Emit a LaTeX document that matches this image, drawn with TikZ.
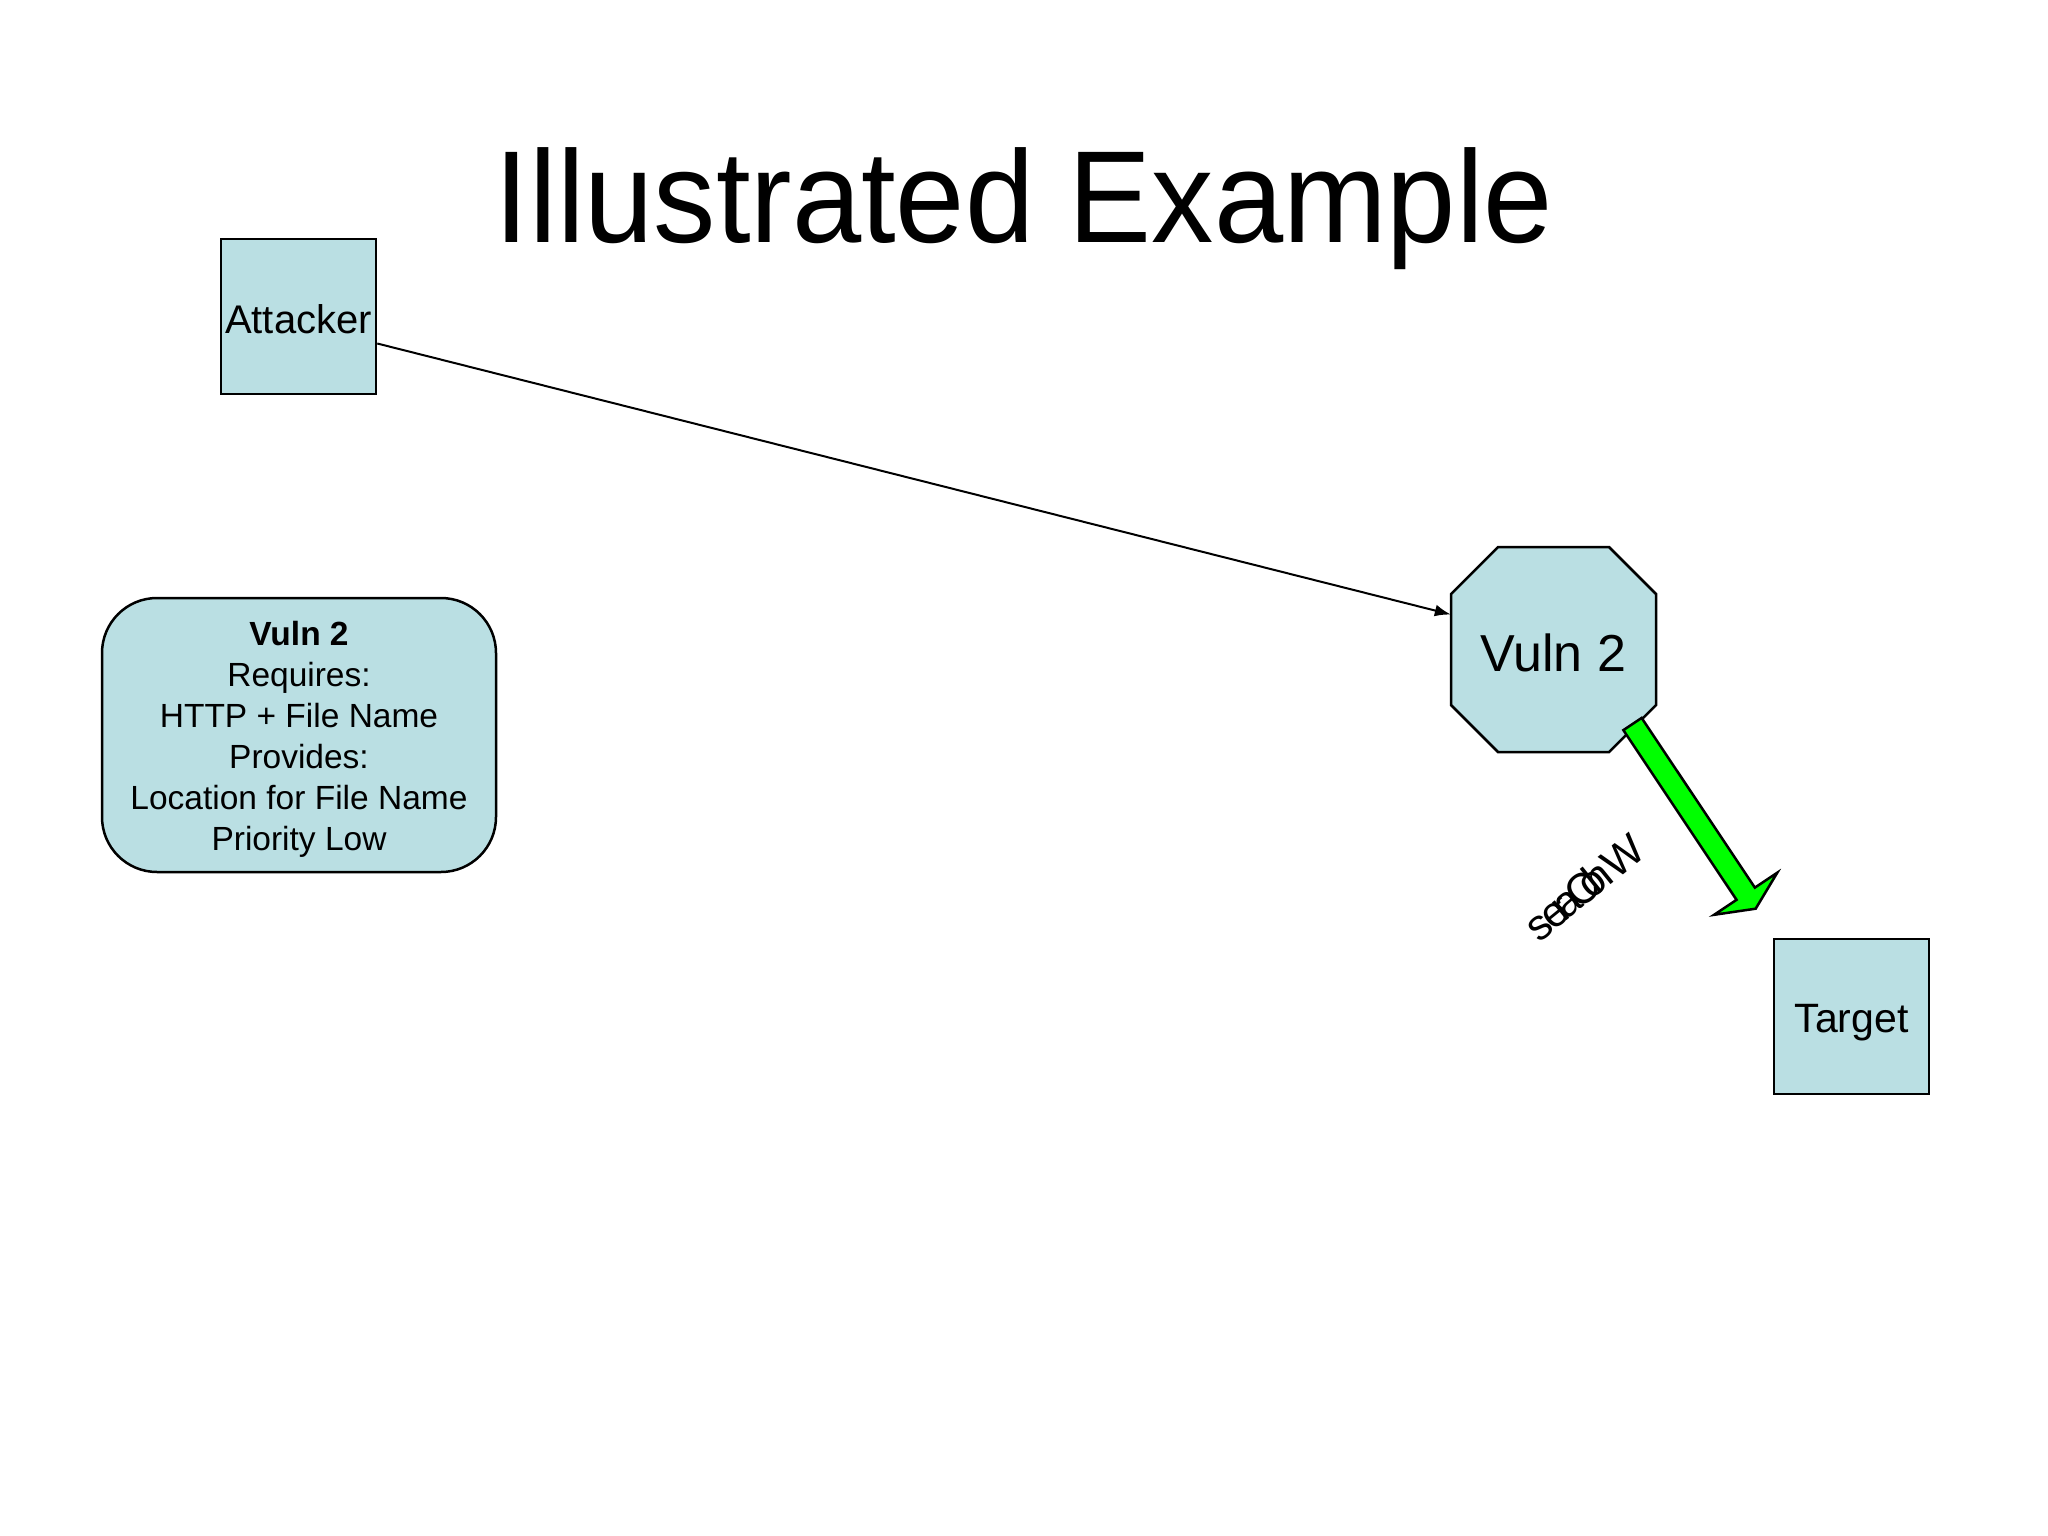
\documentclass[tikz,border=0pt]{standalone}
\usepackage{fontspec}
\setmainfont{Liberation Sans}
\usetikzlibrary{arrows.meta,calc}
\definecolor{boxfill}{RGB}{186,223,227}
\definecolor{arrowgreen}{RGB}{0,255,0}
\tikzset{
  sqbox/.style={draw=black, fill=boxfill, line width=2.5pt, minimum width=155pt, minimum height=155pt, inner sep=0pt},
  boxtext/.style={font=\fontsize{41}{48}\selectfont, inner sep=0pt},
  infobox/.style={draw=black, fill=boxfill, line width=2.5pt, rounded corners=55pt, minimum width=394pt, minimum height=274pt, inner sep=0pt},
  infotext/.style={align=center, inner sep=0pt, font=\fontsize{33.5}{41}\selectfont},
  octfill/.style={draw=black, fill=boxfill, line width=2.5pt, line join=miter},
  link/.style={draw=black, line width=2pt, -{Latex[length=16pt,width=12pt]}},
  greenarrow/.style={draw=black, fill=arrowgreen, line width=2.5pt, line join=miter}
}
\begin{document}
\begin{tikzpicture}[x=1pt,y=-1pt]
\useasboundingbox (0,0) rectangle (2048,1536);
\fill[white] (0,0) rectangle (2048,1536);

% title
\node[anchor=base, font=\fontsize{131}{140}\selectfont, xscale=0.95, inner sep=0pt] (title) at (1024,242) {Illustrated Example};

% attacker
\node[sqbox] (attacker) at (298.5,316.5) {};
\node[boxtext, font=\fontsize{40}{48}\selectfont] (attackerlabel) at ($(attacker.center)+(0,3)$) {Attacker};

% info box
\node[infobox] (info) at (299,735) {};
\node[infotext] (infolabel) at ($(info.center)+(0,4)$) {\textbf{Vuln 2}\\Requires:\\HTTP + File Name\\Provides:\\Location for File Name\\Priority Low};

% octagon Vuln 2
\node[minimum width=205pt, minimum height=205pt, inner sep=0pt] (vuln) at (1553.5,649.5) {};
\path[octfill] ($(vuln.center)+(-55.5,-102.5)$) -- ($(vuln.center)+(55.5,-102.5)$) -- ($(vuln.center)+(102.5,-55.5)$) -- ($(vuln.center)+(102.5,55.5)$) -- ($(vuln.center)+(55.5,102.5)$) -- ($(vuln.center)+(-55.5,102.5)$) -- ($(vuln.center)+(-102.5,55.5)$) -- ($(vuln.center)+(-102.5,-55.5)$) -- cycle;
\node[font=\fontsize{52}{60}\selectfont, inner sep=0pt] (vulnlabel) at ($(vuln.center)+(0,3)$) {Vuln 2};

% target
\node[sqbox] (target) at (1851.5,1016.5) {};
\node[boxtext] (targetlabel) at ($(target.center)+(0,6)$) {Target};

% link attacker -> vuln
\draw[link] ($(attacker.east)+(0,27)$) -- ($(vuln.west)+(0,-35)$);

% green block arrow
\coordinate (gstart) at (1632.5,724);
\begin{scope}[shift={(gstart)}, rotate=-56.3]
\path[greenarrow] (0,-11) -- (204,-11) -- (204,-38) -- (222,0) -- (204,38) -- (204,11) -- (0,11) -- cycle;
\end{scope}

% rotated label
\node[rotate=39, font=\fontsize{43}{48}\selectfont, inner sep=0pt] (whocares) at (1584,887) {s\kern-2.6pt e\kern-11pt r\kern-11pt a\kern-7.3pt C\kern-15.6pt o\kern-15.6pt h\kern0pt W};
\end{tikzpicture}
\end{document}
